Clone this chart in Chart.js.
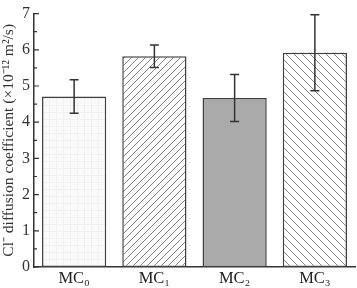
<!DOCTYPE html>
<html>
<head>
<meta charset="utf-8">
<script src="https://cdn.jsdelivr.net/npm/chart.js@4/dist/chart.umd.min.js"></script>
<style>
  html, body { margin: 0; padding: 0; background: #fff; }
  #wrap { width: 357px; height: 288px; position: relative; }
</style>
</head>
<body>
<div id="wrap"><canvas id="chart" width="357" height="288"></canvas></div>
<script>
const categories = ['MC\u2080', 'MC\u2081', 'MC\u2082', 'MC\u2083'];
const values = [4.71, 5.82, 4.67, 5.92];
const errors = [0.46, 0.31, 0.65, 1.05];
const yTicks = [0, 1, 2, 3, 4, 5, 6, 7];

// hatch / fill patterns for each bar
function makePattern(kind) {
    const c = document.createElement('canvas');
    const size = kind === 'back' ? 8 : 7;
    c.width = size; c.height = size;
    const g = c.getContext('2d');
    if (kind === 'light') {
        g.fillStyle = '#fafafa';
        g.fillRect(0, 0, size, size);
        g.fillStyle = '#f1f1f1';
        g.fillRect(0, 0, size, 1);
        g.fillRect(0, 0, 1, size);
    } else if (kind === 'gray') {
        g.fillStyle = '#aaaaaa';
        g.fillRect(0, 0, size, size);
    } else {
        g.fillStyle = '#fff';
        g.fillRect(0, 0, size, size);
        g.strokeStyle = '#777';
        g.lineWidth = 0.9;
        g.beginPath();
        if (kind === 'fwd') {
            g.moveTo(0, size); g.lineTo(size, 0);
            g.moveTo(-1, 1); g.lineTo(1, -1);
            g.moveTo(size - 1, size + 1); g.lineTo(size + 1, size - 1);
        } else {
            g.moveTo(0, 0); g.lineTo(size, size);
            g.moveTo(size - 1, -1); g.lineTo(size + 1, 1);
            g.moveTo(-1, size - 1); g.lineTo(1, size + 1);
        }
        g.stroke();
    }
    return g.createPattern(c, 'repeat');
}

const fills = [makePattern('light'), makePattern('fwd'), makePattern('gray'), makePattern('back')];

// error bars and inward axis ticks
const extras = {
    id: 'extras',
    afterDatasetsDraw(chart) {
        const ctx = chart.ctx;
        const y = chart.scales.y;
        const meta = chart.getDatasetMeta(0);
        ctx.save();
        ctx.strokeStyle = '#333';
        ctx.lineWidth = 1.5;
        meta.data.forEach((bar, i) => {
            const cx = bar.x;
            const top = y.getPixelForValue(values[i] + errors[i]);
            const bot = y.getPixelForValue(values[i] - errors[i]);
            ctx.beginPath();
            ctx.moveTo(cx, top); ctx.lineTo(cx, bot);
            ctx.moveTo(cx - 4.5, top); ctx.lineTo(cx + 4.5, top);
            ctx.moveTo(cx - 4.5, bot); ctx.lineTo(cx + 4.5, bot);
            ctx.stroke();
        });
        const left = chart.chartArea.left;
        ctx.lineWidth = 1.2;
        ctx.beginPath();
        yTicks.forEach(v => {
            const py = y.getPixelForValue(v);
            ctx.moveTo(left, py); ctx.lineTo(left + 5, py);
            if (v < 7) {
                const pm = y.getPixelForValue(v + 0.5);
                ctx.moveTo(left, pm); ctx.lineTo(left + 3, pm);
            }
        });
        ctx.stroke();
        ctx.restore();
    }
};

new Chart(document.getElementById('chart'), {
    type: 'bar',
    data: {
        labels: categories,
        datasets: [{
            data: values,
            backgroundColor: fills,
            borderColor: '#404040',
            borderWidth: 1.5,
            borderSkipped: false,
            barPercentage: 0.8,
            categoryPercentage: 1.0
        }]
    },
    options: {
        responsive: false,
        animation: false,
        layout: { padding: { top: 6, right: 2, left: 0, bottom: 0 } },
        plugins: { legend: { display: false }, tooltip: { enabled: false } },
        scales: {
            x: {
                grid: { display: false, drawTicks: false },
                border: { display: true, color: '#333', width: 1.5 },
                ticks: { color: '#222', padding: 2, font: { family: 'Liberation Serif', size: 16.5 } },
                afterFit(s) { s.height = 21; }
            },
            y: {
                min: 0,
                max: 7,
                afterBuildTicks(s) { s.ticks = yTicks.map(v => ({ value: v })); },
                grid: { display: false, drawTicks: false },
                border: { display: true, color: '#333', width: 1.5 },
                ticks: { color: '#333', padding: 4, font: { family: 'Liberation Serif', size: 16 } },
                title: {
                    display: true,
                    text: 'Cl\u207B diffusion coefficient (\u00D710\u207B\u00B9\u00B2 m\u00B2/s)',
                    color: '#333',
                    padding: { top: 0, bottom: 0 },
                    font: { family: 'Liberation Serif', size: 15.5 }
                },
                afterFit(s) { s.width = 34; }
            }
        }
    },
    plugins: [extras]
});
</script>
</body>
</html>
